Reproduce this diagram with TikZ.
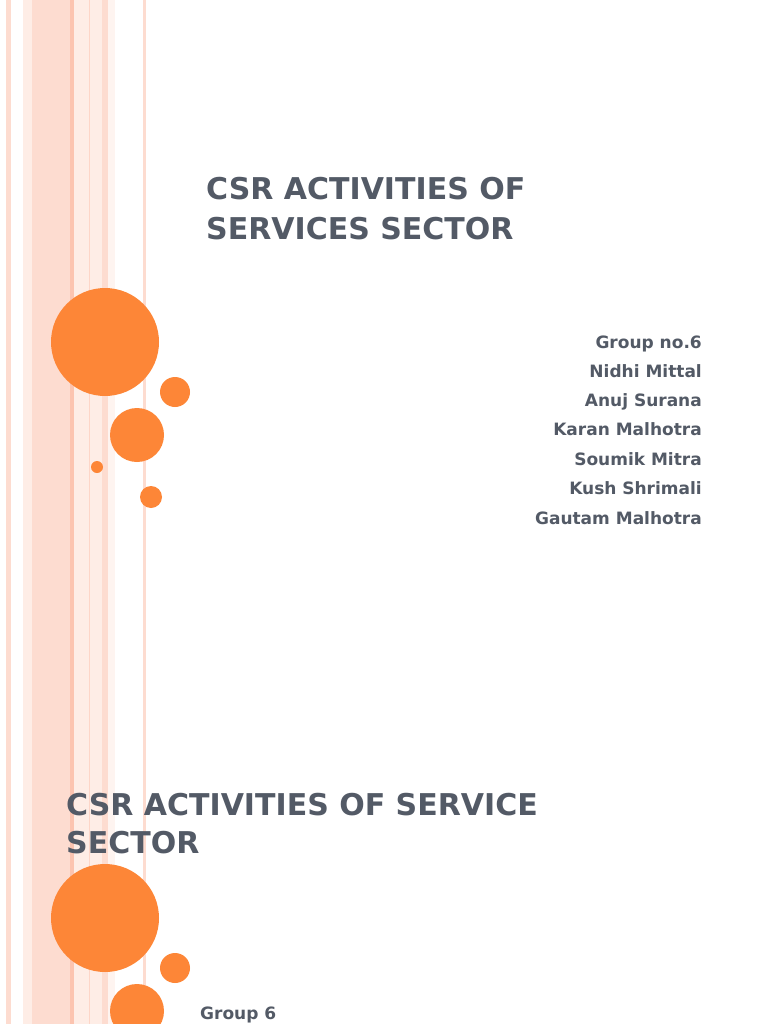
\documentclass[tikz,border=0pt]{standalone}
\usepackage{fontspec}
\setmainfont{DejaVu Sans}
\definecolor{orng}{HTML}{FD8637}
\definecolor{pch}{HTML}{FDDCD0}
\definecolor{pchd}{HTML}{FCC4B0}
\definecolor{pchl}{HTML}{FEEDE6}
\definecolor{txt}{HTML}{535A66}
\tikzset{dot/.style={fill=orng,draw=none},
 title/.style={anchor=base west,font=\bfseries\fontsize{30}{38}\selectfont,text=txt,inner sep=0,align=left},
 nm/.style={anchor=base east,font=\bfseries\fontsize{17}{20}\selectfont,text=txt,inner sep=0}}
\begin{document}
\begin{tikzpicture}[x=1pt,y=-1pt]
\useasboundingbox (0,0) rectangle (768,1024);
\fill[white] (0,0) rectangle (768,1024);
\fill[pch] (6,0) rectangle (11,1024);
\fill[pchl] (23,0) rectangle (32,1024);
\fill[pch] (32,0) rectangle (70,1024);
\fill[pchd] (70,0) rectangle (74,1024);
\fill[pchl] (74,0) rectangle (89,1024);
\fill[pchd!70] (89,0) rectangle (90,1024);
\fill[pchl] (90,0) rectangle (102,1024);
\fill[pch] (102,0) rectangle (108,1024);
\fill[pchl!60] (108,0) rectangle (115,1024);
\fill[pch] (143,0) rectangle (146,1024);
\foreach \o/\n in {0/a,576/b}{
 \fill[dot] (105,342+\o) circle (54);
 \fill[dot] (175,392+\o) circle (15);
 \fill[dot] (137,435+\o) circle (27);
}
\fill[dot] (97,467) circle (6);
\fill[dot] (151,497) circle (11);
\node[title] (t1) at (206,200) {CSR ACTIVITIES OF};
\node[title] (t2) at (206,240) {SERVICES SECTOR};
\node[nm] (n1) at (702,348) {Group no.6};
\node[nm] (n2) at (702,377) {Nidhi Mittal};
\node[nm] (n3) at (702,406) {Anuj Surana\ };
\node[nm] (n4) at (702,435) {Karan Malhotra};
\node[nm] (n5) at (702,465) {Soumik Mitra};
\node[nm] (n6) at (702,494) {Kush Shrimali};
\node[nm] (n7) at (702,524) {Gautam Malhotra};
\node[title] (s1) at (66,815) {CSR ACTIVITIES OF SERVICE};
\node[title] (s2) at (66,853) {SECTOR};
\node[nm,anchor=base west] (g6) at (200,1019) {Group 6};
\end{tikzpicture}
\end{document}
